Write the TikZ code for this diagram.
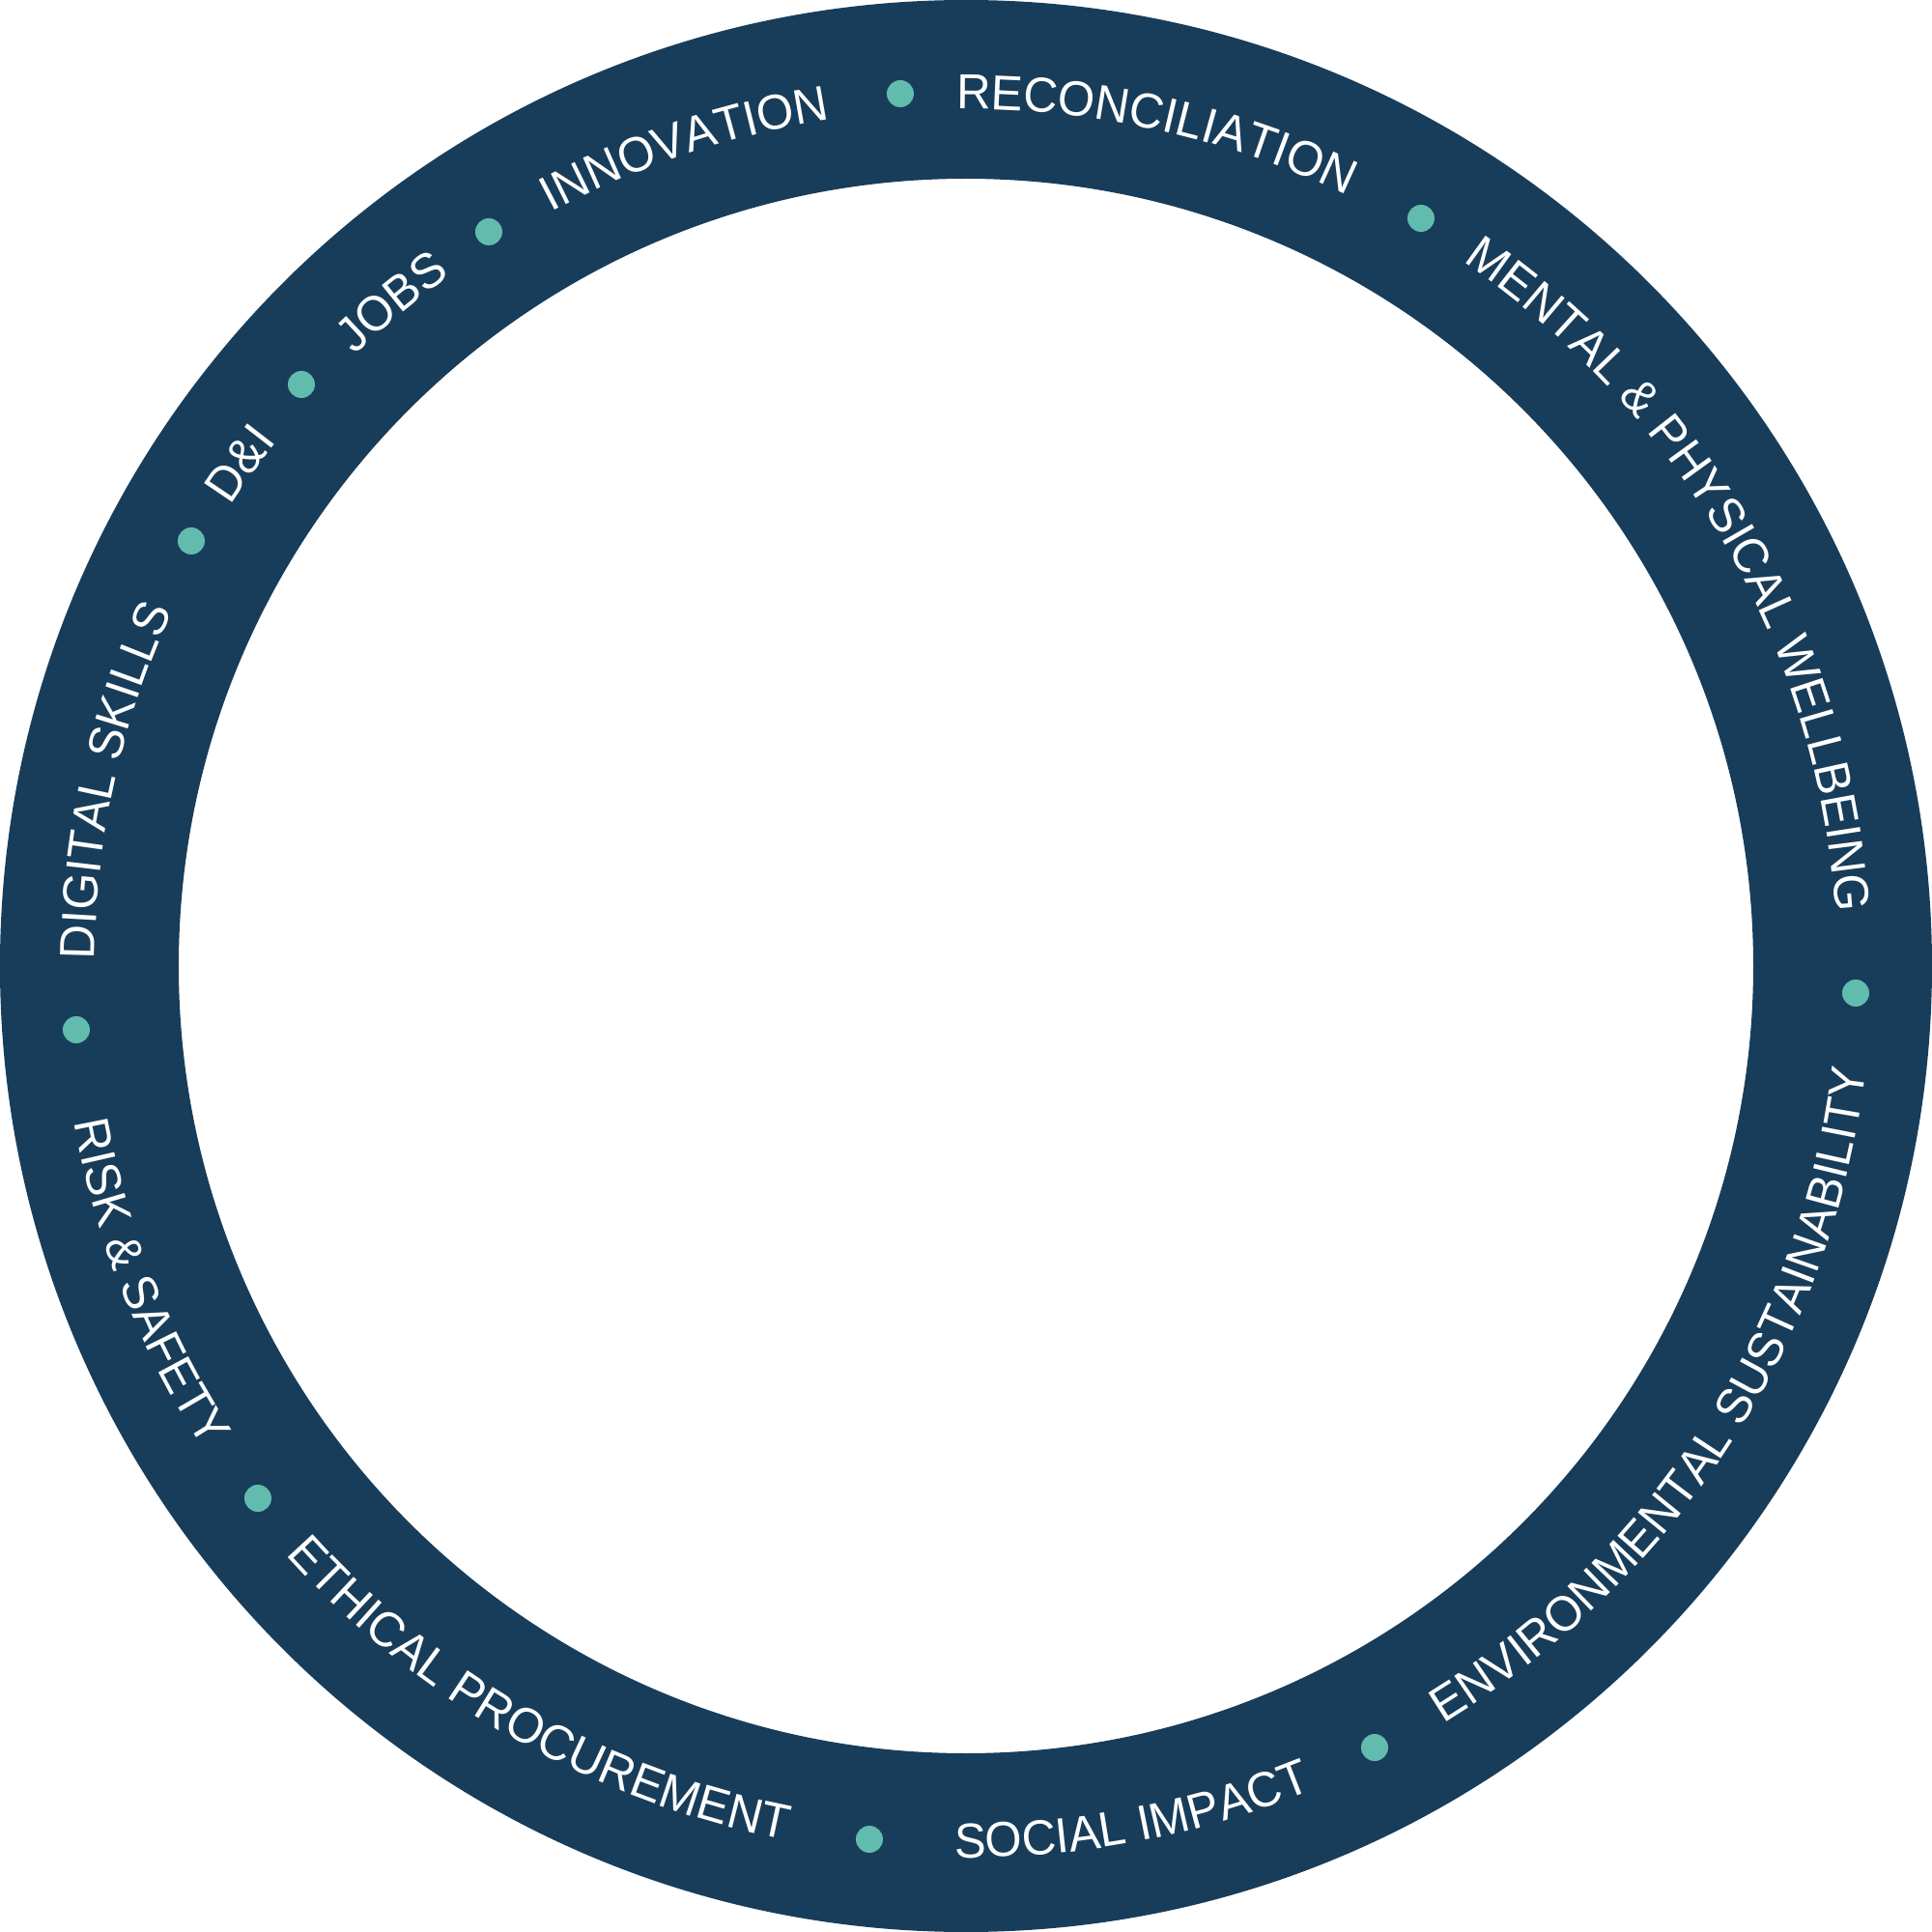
\documentclass[tikz,border=0pt]{standalone}
\usepackage{fontspec}
\newfontfamily\ringfont[FakeStretch=0.965]{Liberation Sans}
\usetikzlibrary{decorations.text}
\definecolor{ringblue}{RGB}{24,61,90}
\definecolor{dotteal}{RGB}{98,188,173}
\newcommand\ringtxt{\ringfont\fontsize{14.5}{17}\selectfont}
\tikzset{
  dot/.style={circle, fill=dotteal, minimum size=0.28cm, inner sep=0pt},
  arctext/.style={decorate, decoration={text along path, text={|\ringtxt|#1}, text align=center, text color=white}},
}
\begin{document}
\begin{tikzpicture}
\useasboundingbox (-10,-10) rectangle (10,10);
\fill[ringblue, even odd rule] (0,0) circle (10) (0,0) circle (8.15);
% dots
\node[dot] (d1) at (-0.68, 9.03) {};
\node[dot] (d2) at (4.71, 7.74) {};
\node[dot] (d3) at (9.21, -0.28) {};
\node[dot] (d4) at (4.23, -8.09) {};
\node[dot] (d5) at (-1.00, -9.04) {};
\node[dot] (d6) at (-7.33, -5.51) {};
\node[dot] (d7) at (-9.21, -0.66) {};
\node[dot] (d8) at (-8.02, 4.40) {};
\node[dot] (d9) at (-6.88, 6.02) {};
\node[dot] (d10) at (-4.94, 7.60) {};
% top texts (clockwise, tops outward)
\path[arctext={RECONCILIATION}] (137.2:9.02 and 8.87) arc[start angle=137.2, end angle=17.2, x radius=9.02, y radius=8.87];
\path[arctext={MENTAL {\&} PHYSICAL WELLBEING}] (89.2:9.02 and 8.87) arc[start angle=89.2, end angle=-30.8, x radius=9.02, y radius=8.87];
\path[arctext={INNOVATION}] (168.9:9.02 and 8.87) arc[start angle=168.9, end angle=48.9, x radius=9.02, y radius=8.87];
\path[arctext={JOBS}] (160.5:9.02 and 8.87) arc[start angle=160.5, end angle=100.5, x radius=9.02, y radius=8.87];
\path[arctext={D{\&}I}] (175:9.02 and 8.87) arc[start angle=175, end angle=115, x radius=9.02, y radius=8.87];
\path[arctext={DIGITAL SKILLS}] (227.7:9.02 and 8.87) arc[start angle=227.7, end angle=107.7, x radius=9.02, y radius=8.87];
% bottom texts (counter-clockwise, tops inward)
\path[arctext={ENVIRONMENTAL SUSTAINABILITY}] (-92.2:9.38 and 9.23) arc[start angle=-92.2, end angle=27.8, x radius=9.38, y radius=9.23];
\path[arctext={SOCIAL IMPACT}] (-139:9.38 and 9.23) arc[start angle=-139, end angle=-19, x radius=9.38, y radius=9.23];
\path[arctext={ETHICAL PROCUREMENT}] (-180.3:9.38 and 9.23) arc[start angle=-180.3, end angle=-60.3, x radius=9.38, y radius=9.23];
\path[arctext={RISK {\&} SAFETY}] (141.2:9.38 and 9.23) arc[start angle=141.2, end angle=261.2, x radius=9.38, y radius=9.23];
\end{tikzpicture}
\end{document}
